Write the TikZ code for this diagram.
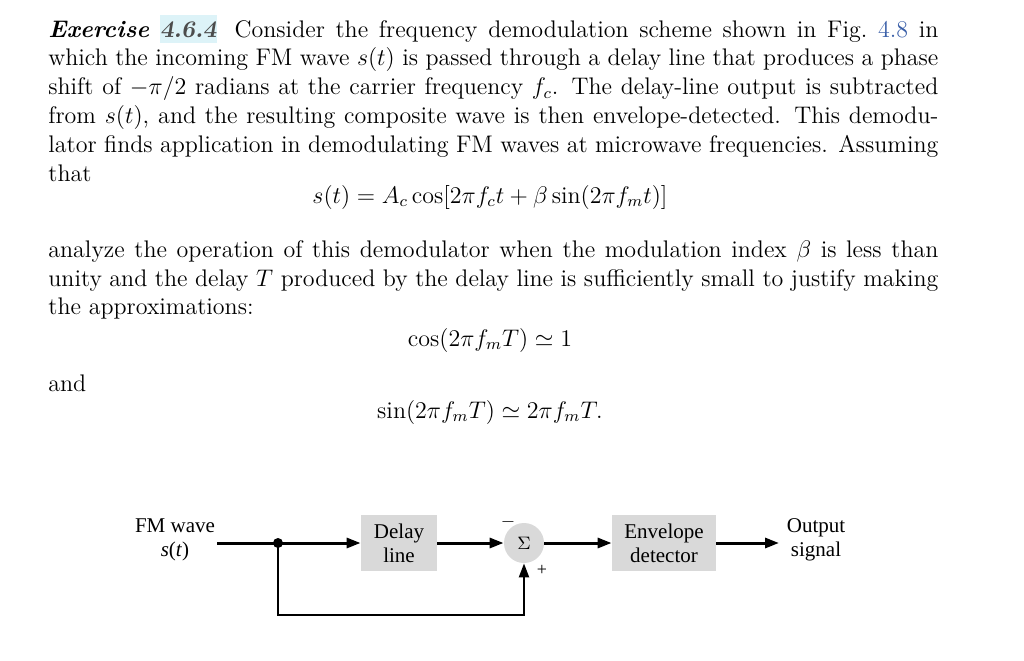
\documentclass[tikz,border=0pt]{standalone}
\usepackage{amsmath}
\usepackage{fontspec}
\newfontfamily\tms{Liberation Serif}
\usetikzlibrary{arrows.meta}
\definecolor{hl}{HTML}{DDF3F8}
\definecolor{lk}{HTML}{3A5FA8}
\definecolor{bx}{HTML}{D9D9D9}
\begin{document}
\begin{tikzpicture}[x=0.5pt,y=-0.5pt,
  txt/.style={inner sep=0pt,anchor=north west,text width=445pt,align=justify,font=\fontsize{12}{14.4}\selectfont},
  eq/.style={inner sep=0pt,font=\fontsize{12}{14.4}\selectfont},
  blk/.style={fill=bx,minimum width=38pt,minimum height=28pt,inner sep=0pt,font=\tms\fontsize{10.5}{12}\selectfont,align=center},
  lbl/.style={font=\tms\fontsize{10.5}{12}\selectfont,align=center,inner sep=0pt},
  wire/.style={line width=1.5pt,-{Triangle[length=7pt,width=5pt]}}]
\useasboundingbox (0,0) rectangle (1024,660);
\node[txt] (p1) at (48,15) {\textbf{\textit{Exercise}} \colorbox{hl}{\kern-3pt\textcolor{black!70}{\textbf{\textsl{4.6.4}}}\kern-3pt}\hspace{0.3em} Consider the frequency demodulation scheme shown in Fig.~\textcolor{lk}{4.8} in which the incoming FM wave $s(t)$ is passed through a delay line that produces a phase shift of $-\pi/2$ radians at the carrier frequency $f_c$. The delay-line output is subtracted from $s(t)$, and the resulting composite wave is then envelope-detected. This demodulator finds application in demodulating FM waves at microwave frequencies. Assuming that};
\node[eq] (e1) at (490,197) {$s(t)=A_c\cos[2\pi f_c t+\beta\sin(2\pi f_m t)]$};
\node[txt] (p2) at (48,240) {analyze the operation of this demodulator when the modulation index $\beta$ is less than unity and the delay $T$ produced by the delay line is sufficiently small to justify making the approximations:};
\node[eq] (e2) at (490,340) {$\cos(2\pi f_m T)\simeq 1$};
\node[inner sep=0pt,anchor=west,font=\fontsize{12}{14.4}\selectfont] (and) at (48,383) {and};
\node[eq] (e3) at (490,412) {$\sin(2\pi f_m T)\simeq 2\pi f_m T.$};
% diagram
\node[lbl] (in) at (175,540) {FM wave\\\textit{s}(\textit{t})};
\node[blk] (dl) at (399,543) {Delay\\line};
\node[circle,fill=bx,minimum size=20pt,inner sep=0pt,font=\tms\small] (sum) at (524,543) {$\Sigma$};
\node[blk,minimum width=52pt] (env) at (664,543) {Envelope\\detector};
\node[lbl] (out) at (816,540) {Output\\signal};
\coordinate (s0) at (217,543);
\coordinate (j) at (278,543);
\coordinate (c1) at (278,615);
\coordinate (c2) at (524,615);
\coordinate (o) at (779,543);
\draw[line width=1.5pt] (s0) -- (j);
\fill (j) circle (2.5pt);
\draw[wire] (j) -- (dl.west);
\draw[wire] (dl.east) -- (sum.west);
\draw[wire] (sum.east) -- (env.west);
\draw[wire] (env.east) -- (o);
\draw[line width=1.1pt,-{Triangle[length=7pt,width=5pt]}] (j) -- (c1) -- (c2) -- (sum.south);
\node[lbl,font=\tms\small] (mn) at (508,522) {$-$};
\node[lbl,font=\tms\small] (pl) at (542,570) {+};
\end{tikzpicture}
\end{document}
